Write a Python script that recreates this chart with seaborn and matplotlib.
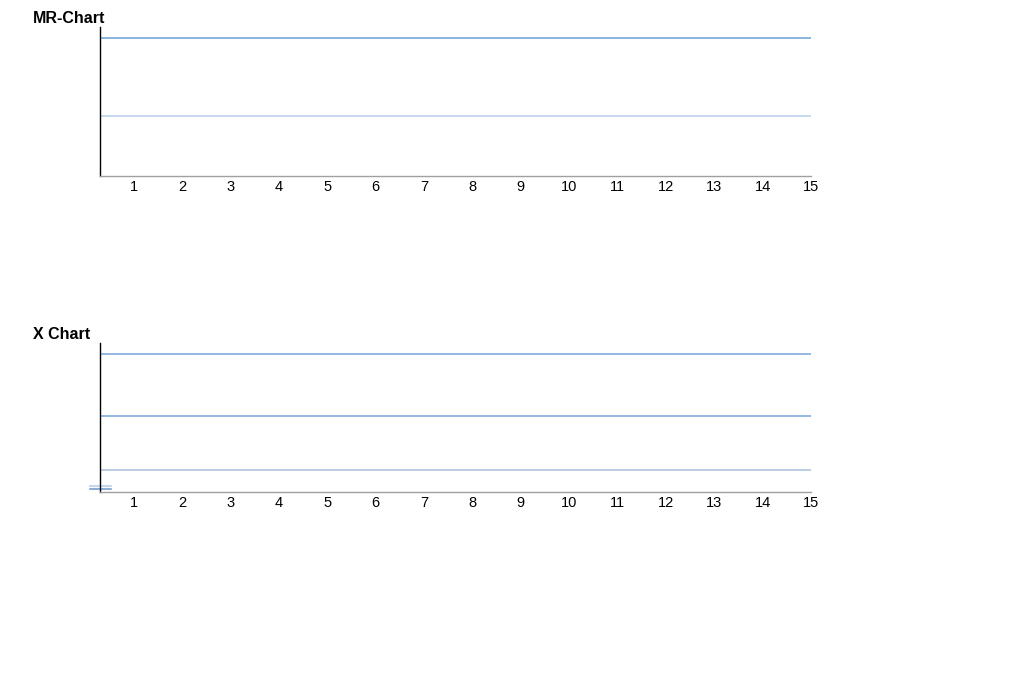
import matplotlib
matplotlib.use("Agg")
import matplotlib.pyplot as plt
import seaborn as sns

# ---------------------------------- DATOS ----------------------------------
muestras = list(range(1, 16))               # etiquetas del eje x
etiquetas_x = [str(m) for m in muestras]

# MR-Chart: limite superior y linea central
mr_lineas = [2.3, 1.0]
mr_colores = ["#6a9fd8", "#b9d1ec"]
mr_ylim = (0, 2.48)

# X Chart: UCL, CL, LCL
x_lineas = [2.3, 1.27, 0.37]
x_colores = ["#78a6dc", "#78a6dc", "#a9bfdb"]
x_ylim = (0, 2.48)

# marcas cortas junto al eje (parte baja del X Chart)
x_marcas = [0.10, 0.05]
x_marcas_colores = ["#c3d6ee", "#8eaed6"]


# ---------------------------------- FUNCION ----------------------------------
def eje_control(ax, titulo, lineas, colores, ylim, fig, y_titulo):
    for valor, color in zip(lineas, colores):
        ax.axhline(valor, color=color, linewidth=1.1)

    ax.set_xlim(0.3, 15)
    ax.set_ylim(*ylim)
    ax.set_xticks(muestras)
    ax.set_xticklabels(etiquetas_x, fontsize=10.5, color="black")
    ax.set_yticks([])
    ax.tick_params(axis="x", length=0, pad=2.5)

    sns.despine(ax=ax, top=True, right=True)
    ax.spines["left"].set_color("black")
    ax.spines["left"].set_linewidth(1.0)
    ax.spines["bottom"].set_color("#a0a0a0")
    ax.spines["bottom"].set_linewidth(1.0)

    fig.text(0.032, y_titulo, titulo, fontsize=11.5, fontweight="bold",
             color="black", ha="left", va="center")


sns.set_style("white")
plt.rcParams["font.family"] = ["Liberation Sans", "DejaVu Sans"]

fig = plt.figure(figsize=(10.24, 6.94), dpi=100)
ax_mr = fig.add_axes([0.0977, 0.746, 0.6943, 0.215])
ax_x = fig.add_axes([0.0977, 0.291, 0.6943, 0.215])

eje_control(ax_mr, "MR-Chart", mr_lineas, mr_colores, mr_ylim, fig, 0.974)
eje_control(ax_x, "X Chart", x_lineas, x_colores, x_ylim, fig, 0.518)

# marcas cortas que sobresalen a la izquierda del eje
for valor, color in zip(x_marcas, x_marcas_colores):
    ax_x.plot([0.09, 0.53], [valor, valor], color=color, linewidth=1.5,
              clip_on=False)

fig.savefig("out.png", dpi=100)
